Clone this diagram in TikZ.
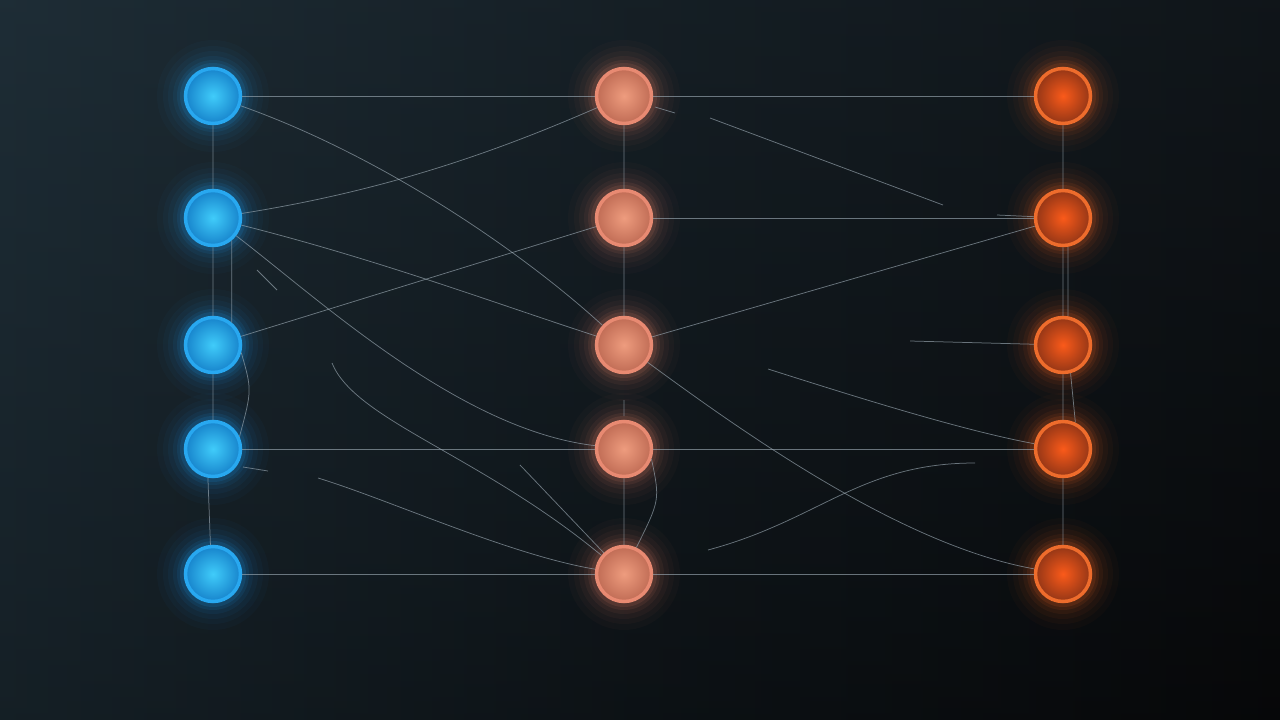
\documentclass[tikz,border=0pt]{standalone}
\definecolor{bgl}{HTML}{1E2D36}
\definecolor{bgm}{HTML}{12191E}
\definecolor{bgr}{HTML}{0A0B0D}
\definecolor{wirec}{HTML}{9AA8B2}
\definecolor{bluecore}{HTML}{40CCFA}
\definecolor{bluering}{HTML}{28A8F0}
\definecolor{bluedeep}{HTML}{1784CC}
\definecolor{blueglow}{HTML}{1C98E8}
\definecolor{salcore}{HTML}{EE9C7E}
\definecolor{salring}{HTML}{E88A72}
\definecolor{saldeep}{HTML}{C06C55}
\definecolor{salglow}{HTML}{D07860}
\definecolor{orcore}{HTML}{FA5A1A}
\definecolor{orring}{HTML}{EE6C2C}
\definecolor{ordeep}{HTML}{943616}
\definecolor{orglow}{HTML}{E05E22}
\newcommand\glowat[2]{\foreach \r/\o in {56/0.03,50/0.04,45/0.05,40/0.07,36/0.1,33/0.14}
  {\fill[#2, opacity=\o] #1 circle (\r pt);}}
\begin{document}
\begin{tikzpicture}[x=1pt,y=-1pt,
  wire/.style={draw=wirec, line width=0.75pt, opacity=0.65},
  dot/.style={circle, minimum size=55pt, inner sep=0pt, line width=3.5pt},
  bluedot/.style={dot, inner color=bluecore, outer color=bluedeep, draw=bluering},
  saldot/.style={dot, inner color=salcore, outer color=saldeep, draw=salring},
  ordot/.style={dot, inner color=orcore, outer color=ordeep, draw=orring}]
% background
\shade[left color=bgl, right color=bgr, middle color=bgm] (0,0) rectangle (1280,720);
\shade[top color=bgl, bottom color=black, opacity=0.3] (0,0) rectangle (1280,720);
\useasboundingbox (0,0) rectangle (1280,720);
% glowing nodes
\foreach \n/\y in {1/96,2/218,3/345,4/449,5/574}{
  \glowat{(213,\y)}{blueglow} \glowat{(624,\y)}{salglow} \glowat{(1063,\y)}{orglow}
  \node[bluedot] (b\n) at (213,\y) {};
  \node[saldot] (s\n) at (624,\y) {};
  \node[ordot] (o\n) at (1063,\y) {};
}
% loose ends
\coordinate (c1) at (257,270); \coordinate (c2) at (277,290);
\coordinate (c3) at (332,363); \coordinate (c4) at (520,465);
\coordinate (c5) at (318,478); \coordinate (c6) at (243,467);
\coordinate (c7) at (268,471); \coordinate (c8) at (655,107);
\coordinate (c9) at (675,113); \coordinate (c10) at (710,118);
\coordinate (c11) at (943,205); \coordinate (c12) at (910,341);
\coordinate (c13) at (768,369); \coordinate (c14) at (708,550);
\coordinate (c15) at (975,463); \coordinate (c16) at (997,215);
\coordinate (c17) at (624,400); \coordinate (c18) at (624,416);
% straight rows and columns
\draw[wire] (b1) -- (s1) (s1) -- (o1) (s2) -- (o2) (b4) -- (s4) (s4) -- (o4)
  (b5) -- (s5) (s5) -- (o5);
\draw[wire] (b1) -- (b2) (b2) -- (b3) (b3) -- (b4) (b4.-100) -- (b5.95)
  (s1) -- (s2) (s2) -- (s3) (s4) -- (s5) (c17) -- (c18)
  (o1) -- (o2) (o2) -- (o3) (o3) -- (o4) (o4) -- (o5);
\draw[wire] (b2.-50) -- (b3.50) (o2.-80) -- (o3.80) (o3.-75) -- (o4.65);
\draw[wire] (b3.-15) .. controls (252,390) .. (b4.25);
\draw[wire] (s4.-20) .. controls (660,500) .. (s5.65);
% crossing links
\draw[wire] (b1) .. controls (380,155) and (520,250) .. (s3);
\draw[wire] (b2) .. controls (390,190) and (500,150) .. (s1);
\draw[wire] (b2) .. controls (380,260) and (500,305) .. (s3);
\draw[wire] (b2) .. controls (320,300) and (460,430) .. (s4);
\draw[wire] (b3) -- (s2);
\draw[wire] (c1) -- (c2) (c6) -- (c7) (c8) -- (c9) (c10) -- (c11);
\draw[wire] (c3) .. controls (355,420) and (480,455) .. (s5);
\draw[wire] (c4) -- (s5);
\draw[wire] (c5) .. controls (390,500) and (510,555) .. (s5);
\draw[wire] (s3) -- (o2);
\draw[wire] (s3) .. controls (740,430) and (900,545) .. (o5);
\draw[wire] (c12) -- (o3) (c16) -- (o2);
\draw[wire] (c13) .. controls (850,395) and (960,430) .. (o4);
\draw[wire] (c14) .. controls (820,520) and (860,463) .. (c15);
\end{tikzpicture}
\end{document}
